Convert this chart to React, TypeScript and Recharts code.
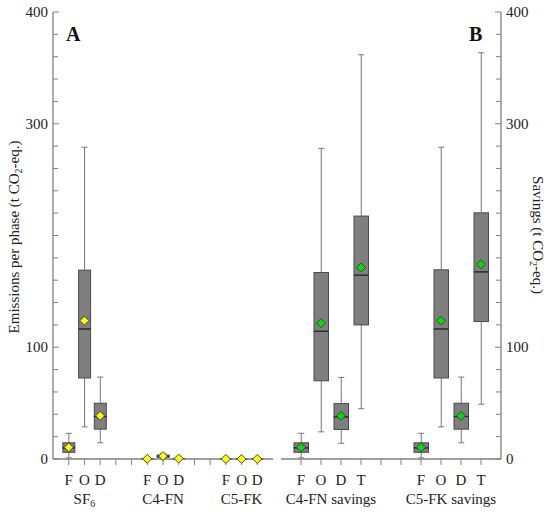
import React from "react";
import { ComposedChart, Bar, Scatter, XAxis, YAxis } from "recharts";

// y axis
const yTicks = [0, 20, 40, 60, 80, 100, 120, 140, 160, 180, 200, 220, 240, 260, 280, 300, 320, 340, 360, 380, 400];
const yLabelled = [0, 100, 300, 400];

// panel A: emissions per phase
const slotsA = ["F", "O", "D", "", "", "F", "O", "D", "", "", "F", "O", "D"];
const boxSlotsA = [0, 1, 2, 5, 6, 7, 10, 11, 12];
const groupNamesA = ["SF", "C4-FN", "C5-FK"];
const groupSubsA = ["6", "", ""];
const groupSlotsA = [1, 6, 11];
const lowA = [1, 28.8, 14.5, 0, 0.5, 0.1, 0, 0, 0];
const q1A = [6, 72.5, 26.7, 0, 1.5, 0.2, 0, 0, 0];
const medA = [10, 116.4, 38, 0.1, 2.5, 0.3, 0, 0, 0];
const q3A = [14.5, 169, 49.9, 0.2, 3.5, 0.5, 0.1, 0.1, 0.1];
const highA = [23, 279, 73.3, 0.3, 5, 0.8, 0.1, 0.1, 0.1];
const meanA = [10.4, 123.8, 38.6, 0.2, 2.6, 0.4, 0.1, 0.1, 0.1];

// panel B: savings
const slotsB = ["F", "O", "D", "T", "", "", "F", "O", "D", "T"];
const boxSlotsB = [0, 1, 2, 3, 6, 7, 8, 9];
const groupNamesB = ["C4-FN savings", "C5-FK savings"];
const groupSlotsB = [1.5, 7.5];
const lowB = [1, 24.3, 14, 45, 1, 28.8, 14.5, 49];
const q1B = [6, 70, 26.4, 120, 6, 72.5, 26.7, 123];
const medB = [10, 114.3, 37.7, 164.5, 10, 116.4, 38, 167.5];
const q3B = [14.5, 166.9, 49.6, 217.4, 14.5, 169.3, 49.9, 220.3];
const highB = [23, 278, 73, 361.7, 23, 279, 73.3, 363.5];
const meanB = [10.4, 121.5, 38.6, 171.3, 10.4, 123.8, 38.6, 174.3];

const FONT = '"Liberation Serif", "Times New Roman", Times, serif';
const TXT = { fontFamily: FONT };
const AXIS = "#808080";
const BOX = "#7f7f7f";
const EDGE = "#4a4a4a";
const WHISK = "#777777";
const TICK_MARGIN = 5;

function buildRows(slots, boxSlots, low, q1, med, q3, high, mean) {
  return slots.map((label, i) => {
    const k = boxSlots.indexOf(i);
    if (k < 0) return { id: i };
    return {
      id: i,
      base: low[k],
      lw: q1[k] - low[k],
      lb: med[k] - q1[k],
      ub: q3[k] - med[k],
      uw: high[k] - q3[k],
      mean: mean[k],
    };
  });
}

const rowsA = buildRows(slotsA, boxSlotsA, lowA, q1A, medA, q3A, highA, meanA);
const rowsB = buildRows(slotsB, boxSlotsB, lowB, q1B, medB, q3B, highB, meanB);

const ok = (p) =>
  p && p.payload && p.payload.mean != null && p.y != null && !isNaN(p.y) && p.height != null && !isNaN(p.height);

const LowerWhisker = (p) => {
  if (!ok(p)) return <g />;
  const cx = p.x + p.width / 2;
  const b = p.y + p.height;
  return (
    <g>
      <line x1={cx} x2={cx} y1={p.y} y2={b} stroke={WHISK} />
      <line x1={cx - 3} x2={cx + 3} y1={b} y2={b} stroke={WHISK} />
    </g>
  );
};

const UpperWhisker = (p) => {
  if (!ok(p)) return <g />;
  const cx = p.x + p.width / 2;
  return (
    <g>
      <line x1={cx} x2={cx} y1={p.y} y2={p.y + p.height} stroke={WHISK} />
      <line x1={cx - 3} x2={cx + 3} y1={p.y} y2={p.y} stroke={WHISK} />
    </g>
  );
};

const LowerBox = (p) => {
  if (!ok(p)) return <g />;
  return <rect x={p.x} y={p.y} width={p.width} height={p.height} fill={BOX} stroke={EDGE} strokeWidth={1} />;
};

const UpperBox = (p) => {
  if (!ok(p)) return <g />;
  const b = p.y + p.height;
  return (
    <g>
      <rect x={p.x} y={p.y} width={p.width} height={p.height} fill={BOX} stroke={EDGE} strokeWidth={1} />
      <line x1={p.x} x2={p.x + p.width} y1={b} y2={b} stroke="#2a2a2a" strokeWidth={1.2} />
    </g>
  );
};

const diamond = (color) => (p) => {
  if (p.cy == null || isNaN(p.cy) || p.payload?.mean == null) return <g />;
  const r = 4.5;
  return (
    <path
      d={`M${p.cx},${p.cy - r}L${p.cx + r},${p.cy}L${p.cx},${p.cy + r}L${p.cx - r},${p.cy}Z`}
      fill={color}
      stroke="#3a3a3a"
      strokeWidth={0.9}
    />
  );
};

const LeftTick = (p) => {
  const v = p.payload.value;
  const major = yLabelled.includes(v);
  const ax = p.x + TICK_MARGIN;
  return (
    <g>
      <line x1={ax} x2={ax + (major ? 6 : 5)} y1={p.y} y2={p.y} stroke={AXIS} />
      {major && (
        <text x={p.x} y={p.y} dy={5} textAnchor="end" style={TXT} fontSize={15} fill="#222">
          {v}
        </text>
      )}
    </g>
  );
};

const RightTick = (p) => {
  const v = p.payload.value;
  const major = yLabelled.includes(v);
  const ax = p.x - TICK_MARGIN;
  return (
    <g>
      <line x1={ax} x2={ax - (major ? 6 : 5)} y1={p.y} y2={p.y} stroke={AXIS} />
      {major && (
        <text x={p.x} y={p.y} dy={5} textAnchor="start" style={TXT} fontSize={15} fill="#222">
          {v}
        </text>
      )}
    </g>
  );
};

const slotTick = (slots) => (p) => (
  <text x={p.x} y={p.y} dy={18} textAnchor="middle" style={TXT} fontSize={15} fill="#222">
    {slots[p.payload.value]}
  </text>
);

const groupTick = (names, subs, at) => (p) => {
  const k = at.indexOf(p.payload.value);
  if (k < 0) return <g />;
  return (
    <text x={p.x} y={p.y} dy={19} textAnchor="middle" style={TXT} fontSize={15} fill="#222">
      {names[k]}
      {subs[k] ? (
        <tspan dy={3} fontSize={10}>
          {subs[k]}
        </tspan>
      ) : null}
    </text>
  );
};

// group labels in panel B sit between two slots: draw at the left one, shift half a band
const groupTickB = (p) => {
  const k = groupSlotsB.indexOf(p.payload.value + 0.5);
  if (k < 0) return <g />;
  return (
    <text x={p.x + 10} y={p.y} dy={19} textAnchor="middle" style={TXT} fontSize={15} fill="#222">
      {groupNamesB[k]}
    </text>
  );
};

export default function App() {
  const commonBars = (mean) => [
    <Bar key="base" dataKey="base" stackId="b" fill="none" shape={<g />} isAnimationActive={false} />,
    <Bar key="lw" dataKey="lw" stackId="b" shape={LowerWhisker} isAnimationActive={false} />,
    <Bar key="lb" dataKey="lb" stackId="b" shape={LowerBox} isAnimationActive={false} />,
    <Bar key="ub" dataKey="ub" stackId="b" shape={UpperBox} isAnimationActive={false} />,
    <Bar key="uw" dataKey="uw" stackId="b" shape={UpperWhisker} isAnimationActive={false} />,
    <Scatter key="mean" dataKey="mean" shape={diamond(mean)} isAnimationActive={false} />,
  ];

  return (
    <div style={{ position: "absolute", left: 0, top: 0, width: 550, height: 513, background: "#fff", fontFamily: FONT }}>
      <div style={{ position: "absolute", left: 0, top: 0 }}>
        <ComposedChart
          width={275}
          height={513}
          data={rowsA}
          barSize={12}
          margin={{ top: 12, right: 2, bottom: 0, left: 0 }}
        >
          <XAxis
            dataKey="id"
            type="category"
            interval={0}
            padding={{ left: 220 / 28, right: 220 / 28 }}
            height={26}
            tickSize={6}
            tickMargin={2}
            axisLine={{ stroke: AXIS, strokeWidth: 1.3 }}
            tickLine={{ stroke: AXIS }}
            tick={slotTick(slotsA)}
          />
          <XAxis
            xAxisId="group"
            dataKey="id"
            type="category"
            interval={0}
            padding={{ left: 220 / 28, right: 220 / 28 }}
            height={28}
            tickSize={0}
            tickMargin={0}
            axisLine={false}
            tickLine={false}
            tick={groupTick(groupNamesA, groupSubsA, groupSlotsA)}
          />
          <XAxis
            xAxisId="top"
            orientation="top"
            dataKey="id"
            type="category"
            height={0}
            tick={false}
            tickLine={false}
            axisLine={{ stroke: AXIS, strokeWidth: 1.3 }}
          />
          <YAxis
            domain={[0, 400]}
            ticks={yTicks}
            interval={0}
            width={53}
            tickSize={0}
            tickMargin={TICK_MARGIN}
            axisLine={{ stroke: AXIS, strokeWidth: 1.3 }}
            tickLine={false}
            tick={LeftTick}
          />
          <YAxis
            yAxisId="frame"
            orientation="right"
            domain={[0, 400]}
            width={0}
            tick={false}
            tickLine={false}
            axisLine={{ stroke: AXIS, strokeWidth: 1.3 }}
          />
          {commonBars("#ffff00")}
        </ComposedChart>
      </div>
      <div style={{ position: "absolute", left: 276, top: 0 }}>
        <ComposedChart
          width={274}
          height={513}
          data={rowsB}
          barSize={14.5}
          margin={{ top: 12, right: 0, bottom: 0, left: 5 }}
        >
          <XAxis
            dataKey="id"
            type="category"
            interval={0}
            padding={{ left: 10, right: 10 }}
            height={26}
            tickSize={6}
            tickMargin={2}
            axisLine={{ stroke: AXIS, strokeWidth: 1.3 }}
            tickLine={{ stroke: AXIS }}
            tick={slotTick(slotsB)}
          />
          <XAxis
            xAxisId="group"
            dataKey="id"
            type="category"
            interval={0}
            padding={{ left: 10, right: 10 }}
            height={28}
            tickSize={0}
            tickMargin={0}
            axisLine={false}
            tickLine={false}
            tick={groupTickB}
          />
          <XAxis
            xAxisId="top"
            orientation="top"
            dataKey="id"
            type="category"
            height={0}
            tick={false}
            tickLine={false}
            axisLine={{ stroke: AXIS, strokeWidth: 1.3 }}
          />
          <YAxis
            orientation="right"
            domain={[0, 400]}
            ticks={yTicks}
            interval={0}
            width={49}
            tickSize={0}
            tickMargin={TICK_MARGIN}
            axisLine={{ stroke: AXIS, strokeWidth: 1.3 }}
            tickLine={false}
            tick={RightTick}
          />
          <YAxis
            yAxisId="frame"
            orientation="left"
            domain={[0, 400]}
            width={0}
            tick={false}
            tickLine={false}
            axisLine={{ stroke: AXIS, strokeWidth: 1.3 }}
          />
          {commonBars("#00e000")}
        </ComposedChart>
      </div>
      <svg
        width={550}
        height={513}
        style={{ position: "absolute", left: 0, top: 0, pointerEvents: "none", fontFamily: FONT }}
      >
        <text x={66} y={41} fontSize={20} fontWeight="bold" fill="#111" style={TXT}>A</text>
        <text x={469} y={41} fontSize={20} fontWeight="bold" fill="#111" style={TXT}>B</text>
        <text transform="translate(19,237) rotate(-90)" textAnchor="middle" fontSize={15} fill="#222" style={TXT}>
          Emissions per phase (t CO<tspan dy={3} fontSize={10}>2</tspan>
          <tspan dy={-3}>-eq.)</tspan>
        </text>
        <text transform="translate(533,235) rotate(90)" textAnchor="middle" fontSize={15} fill="#222" style={TXT}>
          Savings (t CO<tspan dy={3} fontSize={10}>2</tspan>
          <tspan dy={-3}>-eq.)</tspan>
        </text>
      </svg>
    </div>
  );
}
